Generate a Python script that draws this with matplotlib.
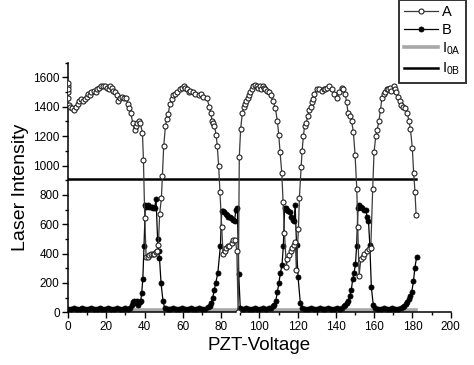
import matplotlib
matplotlib.use("Agg")
import matplotlib.pyplot as plt
from matplotlib.ticker import MultipleLocator

plt.rcParams['font.family'] = ['Liberation Sans', 'DejaVu Sans']
plt.rcParams['mathtext.fontset'] = 'custom'
plt.rcParams['mathtext.rm'] = 'Liberation Sans'

# ---- data ----
A_x = [0, 0, 0, 0, 0.1, 0.3, 1.2, 2.2, 3.1, 4.0, 5.0, 5.7, 6.6, 8.0, 9.0, 10.0, 10.6, 11.5, 12.2,
       13.5, 14.5, 15.3, 16.4, 17.3, 18.5, 19.5, 20.3, 21.2, 22.0, 22.8, 23.7, 24.7, 25.4, 26.1,
       27.1, 28.2, 29.4, 30.3, 31.3, 32.0, 32.8, 33.8, 34.8, 35.5, 36.2, 37.1, 37.8, 38.9, 39.4,
       40.1, 40.8, 41.6, 42.5, 43.4, 44.2, 45.1, 45.9, 46.5, 47.2, 47.9, 48.8, 49.3, 50.0, 50.9,
       51.6, 52.3, 53.3, 54.3, 55.0, 55.9, 56.8, 58.5, 59.6, 60.6, 61.3, 62.0, 63.1, 63.8, 65.2,
       66.4, 68.2, 69.3, 70.7, 72.5, 73.9, 74.6, 75.3, 76.0, 76.5, 77.4, 78.0, 78.7, 79.4, 80.3,
       81.0, 81.8, 82.6, 83.4, 84.3, 85.5, 86.4, 87.5, 88.2, 88.9, 89.5, 90.2, 91.1, 91.9, 92.6,
       93.2, 93.9, 94.6, 95.3, 96.1, 96.9, 97.7, 98.5, 99.5, 100.3, 101.0, 101.7, 102.4, 103.0,
       103.8, 105.0, 106.0, 107.0, 108.4, 109.4, 110.1, 110.8, 111.7, 112.4, 113.1, 114.1, 114.6,
       115.5, 116.4, 117.2, 118.1, 118.8, 119.3, 120.4, 120.9, 121.8, 122.3, 123.0, 123.6, 124.4,
       125.4, 126.1, 127.0, 127.5, 128.2, 128.7, 130.1, 131.3, 132.6, 133.5, 134.5, 135.5, 136.6,
       137.8, 138.8, 140.4, 141.8, 143.0, 143.9, 144.8, 145.6, 146.3, 147.4, 148.2, 149.1, 150.0,
       150.9, 151.4, 152.1, 153.0, 153.9, 154.9, 156.1, 157.3, 158.2, 159.2, 159.9, 160.8, 161.5,
       162.4, 163.3, 164.0, 164.9, 165.8, 166.6, 167.2, 168.1, 168.8, 170.2, 171.1, 171.6, 172.3,
       173.4, 174.2, 175.1, 176.0, 177.2, 178.2, 178.9, 179.9, 180.6, 181.3, 181.9]
A_y = [1460, 1500, 1540, 1560, 1520, 1410, 1400, 1390, 1380, 1400, 1420, 1440, 1450, 1440, 1450,
       1470, 1490, 1480, 1500, 1510, 1500, 1520, 1530, 1540, 1540, 1540, 1530, 1520, 1540, 1530,
       1510, 1500, 1480, 1440, 1460, 1470, 1460, 1460, 1420, 1390, 1360, 1290, 1240, 1270, 1290,
       1300, 1290, 1220, 1040, 640, 380, 380, 390, 400, 400, 400, 410, 420, 460, 670, 780, 930,
       1130, 1270, 1320, 1350, 1420, 1450, 1480, 1490, 1500, 1520, 1530, 1540, 1530, 1520, 1500,
       1510, 1500, 1490, 1480, 1490, 1470, 1460, 1400, 1360, 1300, 1290, 1270, 1210, 1130, 1000,
       820, 580, 400, 420, 440, 450, 450, 470, 490, 490, 420, 0, 1060, 1250, 1360, 1400, 1420,
       1440, 1460, 1480, 1500, 1520, 1540, 1550, 1540, 1530, 1540, 1520, 1540, 1530, 1520, 1510,
       1500, 1480, 1440, 1390, 1300, 1210, 1090, 950, 750, 540, 310, 360, 390, 420, 440, 460, 480,
       290, 570, 780, 990, 1100, 1200, 1270, 1290, 1340, 1380, 1400, 1430, 1450, 1490, 1520, 1520,
       1510, 1520, 1520, 1530, 1540, 1520, 1490, 1460, 1500, 1530, 1520, 1490, 1430, 1360, 1340,
       1300, 1230, 1070, 840, 580, 250, 360, 380, 400, 420, 430, 440, 840, 1090, 1200, 1240, 1300,
       1380, 1460, 1490, 1500, 1520, 1520, 1530, 1510, 1540, 1520, 1500, 1470, 1440, 1410, 1400,
       1390, 1360, 1300, 1250, 1120, 950, 820, 660]

B_points = [
    (0, 25), (1.5, 25), (3, 30), (4.5, 25), (6, 25), (7.5, 30), (9, 25), (10.5, 25), (12, 30),
    (13.5, 25), (15, 25), (16.5, 30), (18, 25), (19.5, 25), (21, 30), (22.5, 25), (24, 25),
    (25.5, 30), (27, 25), (28.5, 25), (30, 30), (31.5, 25), (32.5, 30),
    (33.2, 50), (33.8, 70), (34.4, 80), (35.0, 70), (35.6, 60), (36.2, 80), (36.8, 50),
    (37.4, 70), (38.0, 80), (38.5, 130), (39.1, 230), (39.7, 450), (40.4, 730), (41.0, 720),
    (41.7, 730), (42.4, 720), (43.1, 720), (43.8, 720), (44.5, 710), (45.2, 710), (46.0, 770),
    (46.8, 500), (47.3, 420), (47.8, 370), (48.6, 200), (49.6, 80), (50.5, 30),
    (52, 25), (53.5, 25), (55, 30), (56.5, 25), (58, 25), (59.5, 30), (61, 25), (62.5, 25),
    (64, 30), (65.5, 25), (67, 25), (68.5, 30), (70, 25), (71.5, 25), (73, 35), (74.0, 45),
    (74.8, 60), (75.6, 100), (76.4, 150), (77.2, 200), (78.3, 270), (79.6, 450), (80.3, 690),
    (80.9, 690), (81.6, 680), (82.3, 670), (83.0, 660), (83.8, 650), (84.6, 650), (85.4, 640),
    (86.2, 630), (87.0, 620), (87.7, 700), (88.5, 710), (89.2, 260), (90.0, 30),
    (91.5, 25), (93, 30), (94.5, 25), (96, 25), (97.5, 30), (99, 25), (100.5, 25), (102, 30),
    (103.5, 25), (105, 30), (106.2, 30), (107.0, 40), (107.8, 50), (108.6, 80), (109.4, 140),
    (110.2, 200), (111.0, 270), (111.8, 320), (112.5, 450), (113.2, 710), (113.8, 710),
    (114.5, 700), (115.2, 690), (116.0, 680), (116.7, 650), (117.4, 630), (118.1, 620),
    (118.7, 730), (119.4, 460), (120.2, 240), (121.4, 60), (122.5, 30),
    (124, 25), (125.5, 25), (127, 30), (128.5, 25), (130, 25), (131.5, 30), (133, 25),
    (134.5, 25), (136, 30), (137.5, 25), (139, 25), (140.5, 30), (142, 25), (143.2, 30),
    (144.0, 40), (144.8, 50), (145.6, 60), (146.4, 80), (147.2, 110), (148.0, 150), (148.8, 230),
    (149.5, 270), (150.2, 330), (150.8, 450), (151.5, 710), (152.3, 730), (153.0, 720),
    (153.8, 710), (154.5, 700), (155.5, 700), (156.3, 650), (157.0, 620), (157.7, 460),
    (158.5, 170), (159.5, 50), (160.5, 30),
    (162, 25), (163.5, 25), (165, 30), (166.5, 25), (168, 25), (169.5, 30), (171, 25),
    (172.5, 25), (174, 30), (175.0, 35), (175.8, 45), (176.6, 55), (177.3, 70), (178.0, 90),
    (178.8, 110), (179.6, 140), (180.5, 210), (181.2, 300), (182.2, 380),
]
B_x = [p[0] for p in B_points]
B_y = [p[1] for p in B_points]

I0_x = [0, 182]
I0A_level = 15
I0B_level = 910

x_ticks = [0, 20, 40, 60, 80, 100, 120, 140, 160, 180, 200]
y_ticks = [0, 200, 400, 600, 800, 1000, 1200, 1400, 1600]

# ---- figure ----
fig = plt.figure(figsize=(4.74, 3.65), dpi=100)
ax = fig.add_axes([0.1435, 0.1444, 0.8075, 0.6836])

lA, = ax.plot(A_x, A_y, color='#3a3a3a', lw=0.9, marker='o', ms=3.6, mfc='white',
              mec='#222222', mew=0.8, label='A', zorder=4)
lB, = ax.plot(B_x, B_y, color='black', lw=0.9, marker='o', ms=3.6, mfc='black',
              mec='black', mew=0.6, label='B', zorder=3)
l0A, = ax.plot(I0_x, [I0A_level, I0A_level], color='#a8a8a8', lw=2.6,
               label=r'I$_\mathregular{0A}$', zorder=2)
l0B, = ax.plot(I0_x, [I0B_level, I0B_level], color='black', lw=1.8,
               label=r'I$_\mathregular{0B}$', zorder=2)

ax.set_xlim(0, 200)
ax.set_ylim(0, 1700)
ax.set_xticks(x_ticks)
ax.set_yticks(y_ticks)
ax.xaxis.set_minor_locator(MultipleLocator(10))
ax.yaxis.set_minor_locator(MultipleLocator(100))
ax.tick_params(which='major', direction='out', length=4, width=1, labelsize=8.5, pad=2)
ax.tick_params(which='minor', direction='out', length=2.5, width=1)
for s in ['top', 'right']:
    ax.spines[s].set_visible(False)
for s in ['left', 'bottom']:
    ax.spines[s].set_linewidth(1.1)

ax.set_xlabel('PZT-Voltage', fontsize=13.5, labelpad=3)
ax.set_ylabel('Laser Intensity', fontsize=14, labelpad=3)

leg = fig.legend(handles=[lA, lB, l0A, l0B], loc='upper right',
                 bbox_to_anchor=(466 / 474, 1.0), fontsize=10.5, frameon=True,
                 fancybox=False, edgecolor='black', handlelength=2.3,
                 handletextpad=0.3, labelspacing=0.25, borderpad=0.35,
                 borderaxespad=0.0)
leg.get_frame().set_linewidth(1.4)

fig.savefig('out.png', dpi=100)
